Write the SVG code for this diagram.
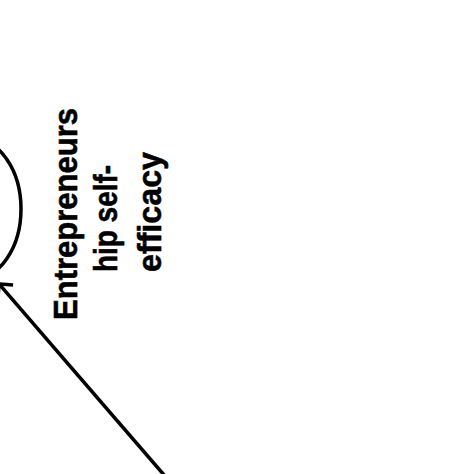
<svg xmlns="http://www.w3.org/2000/svg" width="474" height="474" viewBox="0 0 474 474">
  <style>
    .shape { fill: none; stroke: #000; stroke-width: 3.5; }
    .label { font-family: "Liberation Sans", Arial, sans-serif; font-weight: bold; font-size: 34px; fill: #000; stroke: #000; stroke-width: 0.6; }
  </style>
  <defs>
    <marker id="arrow" markerUnits="userSpaceOnUse" markerWidth="30" markerHeight="30" viewBox="-20 -15 30 30" refX="0" refY="0" orient="auto" overflow="visible">
      <path d="M -10 -10 L 0 0 L -10 10" fill="none" stroke="#000" stroke-width="3.5"/>
    </marker>
  </defs>
  <rect width="474" height="474" fill="#fff"/>
  <g id="node-ese">
    <ellipse class="shape" cx="-27" cy="209" rx="48" ry="70"/>
    <text class="label" transform="translate(77,320) rotate(-90)" textLength="212" lengthAdjust="spacingAndGlyphs">Entrepreneurs</text>
    <text class="label" transform="translate(117,272) rotate(-90)" textLength="107" lengthAdjust="spacingAndGlyphs">hip self-</text>
    <text class="label" transform="translate(161,272) rotate(-90)" textLength="120" lengthAdjust="spacingAndGlyphs">efficacy</text>
  </g>
  <g id="connectors">
    <line class="shape" x1="164" y1="475" x2="-1" y2="284" marker-end="url(#arrow)"/>
  </g>
</svg>
